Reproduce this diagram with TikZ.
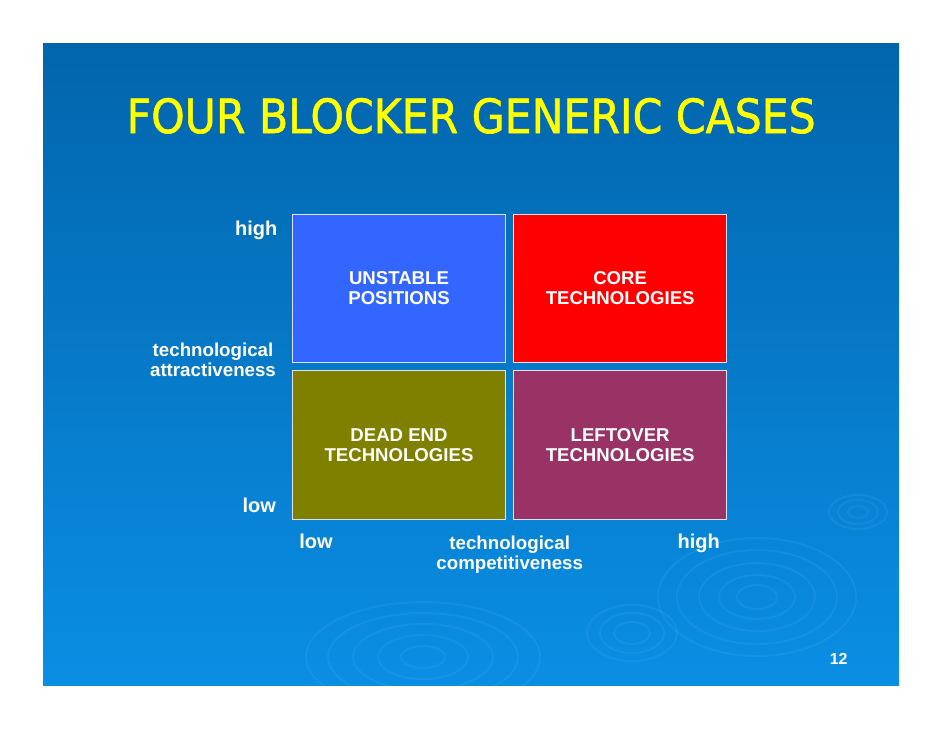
\documentclass[tikz,border=0pt]{standalone}
\usepackage{graphicx}
\usepackage{fontspec}
\setmainfont{Liberation Sans}
\newfontfamily\titlefont[FakeBold=1.3]{DejaVu Sans}
\definecolor{slidetop}{RGB}{2,101,172}
\definecolor{slidebot}{RGB}{10,142,228}
\definecolor{ripplecol}{RGB}{100,190,250}
\definecolor{qblue}{RGB}{51,102,255}
\definecolor{qred}{RGB}{255,0,0}
\definecolor{qolive}{RGB}{128,128,0}
\definecolor{qpurple}{RGB}{153,51,102}
\definecolor{qborder}{RGB}{222,226,242}
\definecolor{titleyellow}{RGB}{255,255,0}
\tikzset{
  quad/.style={draw=qborder, line width=0.9pt, minimum width=213.4pt, minimum height=148.7pt,
    text=white, align=center, font=\bfseries\fontsize{18.6}{20}\selectfont, inner sep=0pt},
  lab/.style={text=white, font=\bfseries\fontsize{20}{22}\selectfont, inner sep=0pt, anchor=base},
  axislab/.style={text=white, align=center, font=\bfseries\fontsize{18.7}{20}\selectfont, inner sep=0pt},
  ripple/.style={draw=ripplecol, line width=2pt, opacity=0.13}
}
\begin{document}
\begin{tikzpicture}[x=1pt,y=-1pt]
\useasboundingbox (0,0) rectangle (942,728);
\fill[white] (0,0) rectangle (942,728);
\shade[top color=slidetop, bottom color=slidebot] (43,43) rectangle (899,685);
% ripples
\begin{scope}
\clip (43,43) rectangle (899,685);
\foreach \rx/\ry in {99/59,80/47,58/34,38/22,20/12} \draw[ripple] (757,597) ellipse [x radius=\rx, y radius=\ry];
\foreach \rx/\ry in {117/55,95/44,70/33,45/22,22/11} \draw[ripple] (423,657) ellipse [x radius=\rx, y radius=\ry];
\foreach \rx/\ry in {29/17,20/12,10/6} \draw[ripple] (858,512) ellipse [x radius=\rx, y radius=\ry];
\foreach \rx/\ry in {45/28,32/20,18/11} \draw[ripple] (632,633) ellipse [x radius=\rx, y radius=\ry];
\end{scope}
% title
\node[anchor=base west, inner sep=0pt, text=titleyellow] (title) at (126.5,133)
  {\resizebox{689pt}{35pt}{\titlefont FOUR BLOCKER GENERIC CASES}};
% quadrants
\node[quad, fill=qblue]   (ul) at (399,288.35)   {UNSTABLE\\POSITIONS};
\node[quad, fill=qred]    (ur) at (620.15,288.35) {CORE\\TECHNOLOGIES};
\node[quad, fill=qolive]  (ll) at (399,445.15)   {DEAD END\\TECHNOLOGIES};
\node[quad, fill=qpurple] (lr) at (620.15,445.15) {LEFTOVER\\TECHNOLOGIES};
% axis labels
\node[lab] (yhigh) at (256.3,235) {high};
\node[lab] (ylow) at (259.3,512.7) {low};
\node[lab] (xlow) at (316,548.3) {low};
\node[lab] (xhigh) at (698.7,548.3) {high};
\node[axislab] (ylab) at (213,359.8) {technological\\attractiveness};
\node[axislab] (xlab) at (509.7,554.5) {technological\\competitiveness};
% page number
\node[text=white, font=\bfseries\fontsize{16}{18}\selectfont, anchor=base, inner sep=0pt] (pg) at (838.7,664.3) {12};
\end{tikzpicture}
\end{document}
